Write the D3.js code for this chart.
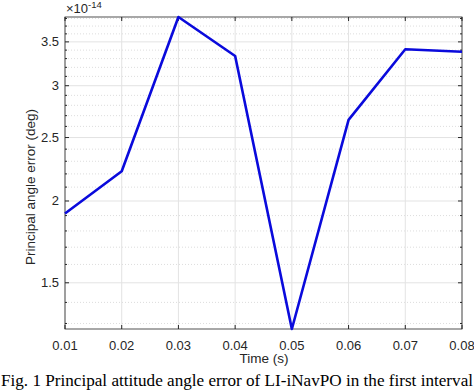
<!DOCTYPE html>
<html><head><meta charset="utf-8">
<script src="https://cdn.jsdelivr.net/npm/d3@7"></script>
<style>body{margin:0;background:#fff}svg{display:block}</style>
</head><body>
<svg id="c" width="474" height="392"></svg>
<script>
const times = [0.01,0.02,0.03,0.04,0.05,0.06,0.07,0.08];
const errors = [1.914,2.22,3.82,3.33,1.275,2.66,3.41,3.38]; // x1e-14 deg
const xTicks = [0.01,0.02,0.03,0.04,0.05,0.06,0.07,0.08];
const yTicks = [1.5,2,2.5,3,3.5];
const yMinor = [1.3,1.4,1.6,1.7,1.8,1.9,2.1,2.2,2.3,2.4,2.6,2.7,2.8,2.9,3.1,3.2,3.3,3.4,3.6,3.7,3.8];

const svg = d3.select("#c");
const L=65,R=462,T=17,B=329;
const x = d3.scaleLinear().domain([0.01,0.08]).range([L,R]);
const y = d3.scaleLog().domain([d3.min(errors),d3.max(errors)]).range([B,T]);
const g = svg.append("g");
// grid
g.selectAll(".ym").data(yMinor).join("line").attr("x1",L).attr("x2",R)
 .attr("y1",d=>y(d)).attr("y2",d=>y(d)).attr("stroke","#d4d4d4").attr("stroke-dasharray","1,2").attr("stroke-width",0.8);
g.selectAll(".yM").data(yTicks).join("line").attr("x1",L).attr("x2",R)
 .attr("y1",d=>y(d)).attr("y2",d=>y(d)).attr("stroke","#e3e3e3").attr("stroke-width",1);
g.selectAll(".xM").data(xTicks).join("line").attr("y1",T).attr("y2",B)
 .attr("x1",d=>x(d)).attr("x2",d=>x(d)).attr("stroke","#e3e3e3").attr("stroke-width",1);
// ticks (inward)
const tc="#262626";
[[L,1],[R,-1]].forEach(([xx,s])=>{
  g.selectAll(null).data(yTicks).join("line").attr("x1",xx).attr("x2",xx+s*4).attr("y1",d=>y(d)).attr("y2",d=>y(d)).attr("stroke",tc);
  g.selectAll(null).data(yMinor).join("line").attr("x1",xx).attr("x2",xx+s*2).attr("y1",d=>y(d)).attr("y2",d=>y(d)).attr("stroke",tc);
});
[[B,-1],[T,1]].forEach(([yy,s])=>{
  g.selectAll(null).data(xTicks).join("line").attr("y1",yy).attr("y2",yy+s*4).attr("x1",d=>x(d)).attr("x2",d=>x(d)).attr("stroke",tc);
});
g.append("rect").attr("x",L).attr("y",T).attr("width",R-L).attr("height",B-T).attr("fill","none").attr("stroke",tc).attr("stroke-width",0.8);
// line
const line = d3.line().x((d,i)=>x(times[i])).y(d=>y(d));
g.append("path").datum(errors).attr("d",line).attr("fill","none").attr("stroke","#0a0adc").attr("stroke-width",2.6).attr("stroke-linejoin","round");
// labels
const font="'Liberation Sans', Arial, sans-serif";
g.selectAll(".xl").data(xTicks).join("text").attr("x",d=>x(d)).attr("y",B+21).attr("text-anchor","middle")
 .attr("font-family",font).attr("font-size",13).attr("fill",tc).text(d=>d.toFixed(2));
g.selectAll(".yl").data(yTicks).join("text").attr("x",L-6).attr("y",d=>y(d)+4.5).attr("text-anchor","end")
 .attr("font-family",font).attr("font-size",13).attr("fill",tc).text(d=>d);
const ex = g.append("text").attr("x",L+1).attr("y",13).attr("font-family",font).attr("font-size",13).attr("fill",tc);
ex.append("tspan").text("×10");
ex.append("tspan").attr("dy",-5).attr("font-size",9.5).text("-14");
g.append("text").attr("x",264).attr("y",363).attr("text-anchor","middle").attr("font-family",font).attr("font-size",13.5).attr("fill",tc).text("Time (s)");
g.append("text").attr("transform",`translate(35,187) rotate(-90)`).attr("text-anchor","middle").attr("font-family",font).attr("font-size",13.5).attr("fill",tc).text("Principal angle error (deg)");
g.append("text").attr("x",1).attr("y",386).attr("textLength",472).attr("lengthAdjust","spacingAndGlyphs").attr("font-family","'Liberation Serif','Times New Roman',serif").attr("font-size",17).attr("fill","#000").text("Fig. 1 Principal attitude angle error of LI-iNavPO in the first interval");
</script>
</body></html>
